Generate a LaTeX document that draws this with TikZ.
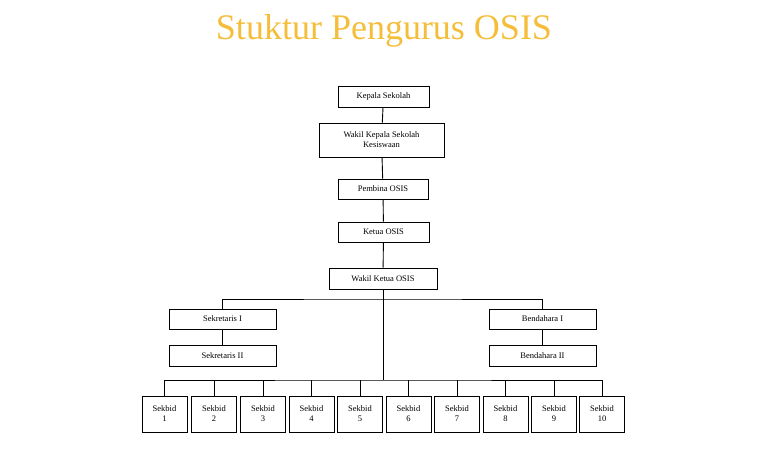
\documentclass[tikz,border=0pt]{standalone}
\usepackage{fontspec}
\setmainfont{Liberation Serif}
\definecolor{gold}{HTML}{F4BE3A}
\begin{document}
\begin{tikzpicture}[x=1pt,y=-1pt,
  box/.style={draw,line width=0.9pt,inner sep=0pt,font=\fontsize{8.5}{10}\selectfont,align=center},
  ln/.style={line width=0.9pt}]
\useasboundingbox (0,0) rectangle (768,461);
\node[text=gold,font=\fontsize{36}{40}\selectfont] (title) at (384,31) {Stuktur Pengurus OSIS};
\node[box,minimum width=91pt,minimum height=21pt] (kep) at (383.5,96.5) {Kepala Sekolah};
\node[box,minimum width=125pt,minimum height=34pt] (wak) at (381.5,140) {Wakil Kepala Sekolah\\Kesiswaan};
\node[box,minimum width=90pt,minimum height=20pt] (pem) at (383,189) {Pembina OSIS};
\node[box,minimum width=91pt,minimum height=20pt] (ket) at (383.5,232) {Ketua OSIS};
\node[box,minimum width=108pt,minimum height=21pt] (wkt) at (383,278.5) {Wakil Ketua OSIS};
\node[box,minimum width=107pt,minimum height=20pt] (s1) at (222.5,319) {Sekretaris I};
\node[box,minimum width=107pt,minimum height=21pt] (s2) at (222.5,355.5) {Sekretaris II};
\node[box,minimum width=107pt,minimum height=20pt] (b1) at (542.5,319) {Bendahara I};
\node[box,minimum width=107pt,minimum height=21pt] (b2) at (542.5,356) {Bendahara II};
\foreach \i/\x in {1/164.5,2/214,3/263,4/311.5,5/360,6/408.5,7/457,8/505.5,9/554,10/602}{
  \node[box,minimum width=45pt,minimum height=36pt] (sb\i) at (\x,414) {Sekbid\\\i};
}
\draw[ln] (kep) -- (wak);
\draw[ln] (wak) -- (pem);
\draw[ln] (pem) -- (ket);
\draw[ln] (ket) -- (wkt);
\coordinate (bus) at (383,299);
\coordinate (bus2) at (383,380);
\draw[ln] (wkt.south) -- (bus2);
\draw[ln] (s1.north) |- (bus) -| (b1.north);
\draw[ln] (s1) -- (s2);
\draw[ln] (b1) -- (b2);
\draw[ln] (sb1.north) |- (bus2) -| (sb10.north);
\foreach \i in {2,...,9}{\draw[ln] (sb\i.north) -- ++(0,-16);}
\end{tikzpicture}
\end{document}
